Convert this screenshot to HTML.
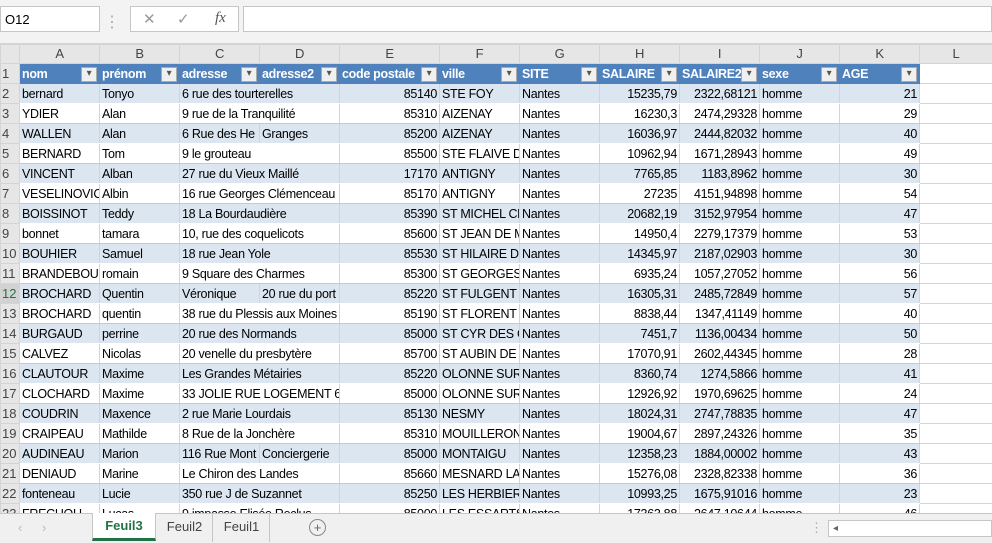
<!DOCTYPE html>
<html><head><meta charset="utf-8"><style>
*{margin:0;padding:0;box-sizing:border-box}
body{width:992px;height:543px;overflow:hidden;background:#fff;font-family:"Liberation Sans",sans-serif;position:relative}
#top{position:absolute;left:0;top:0;width:992px;height:44px;background:#f3f3f3;border-bottom:1px solid #d4d4d4}
.nb{position:absolute;left:0;top:6px;width:100px;height:26px;background:#fff;border:1px solid #c6c6c6;font-size:13px;padding:5px 4px}
.fb{position:absolute;left:130px;top:6px;width:109px;height:26px;background:#fff;border:1px solid #c6c6c6;color:#999;font-size:15px}
.fx{position:absolute;left:243px;top:6px;width:749px;height:26px;background:#fff;border:1px solid #c6c6c6}
table{position:absolute;left:0;top:44px;width:992px;border-collapse:collapse;table-layout:fixed;font-size:12.5px;letter-spacing:-0.3px}
td{height:20px;border:1px solid #d4d4d4;white-space:nowrap;overflow:hidden;padding:0 2px;line-height:18px;color:#000}
tr.h td{height:19px;background:#e6e6e6;text-align:center;color:#444;font-size:13px}
td.rn{background:#e6e6e6;text-align:left;color:#444;padding-left:1px;font-size:13px;letter-spacing:0}
tr.t td:not(.rn):not(.e){background:#4f81bd;color:#fff;font-weight:bold;border-color:#4f81bd;position:relative}
tr.t td:not(.rn):not(.e)::after{content:"▾";position:absolute;right:2px;top:3px;width:14px;height:13px;background:#f0f0f0;color:#555;font-size:10px;line-height:12px;text-align:center;font-weight:normal;border:1px solid #aaa}
tr.b td:not(.rn):not(.e){background:#dce6f1;border-color:#fff #d4d4d4}
tr.w td:not(.rn):not(.e){border-color:#b8cce4 #d4d4d4}
.r{text-align:right}
#tabs{position:absolute;left:0;top:513px;width:992px;height:30px;background:#f0f0f0;border-top:1px solid #c6c6c6;font-size:13px;color:#444}
.tab{position:absolute;top:0;height:28px;line-height:26px;text-align:center}
</style></head><body>
<div id="top"><div class="nb">O12</div><div style="position:absolute;left:104px;top:12px;color:#aaa">⋮</div><div class="fb"><span style="position:absolute;left:12px;top:3px">✕</span><span style="position:absolute;left:46px;top:3px">✓</span><span style="position:absolute;left:84px;top:3px;font-style:italic;font-family:'Liberation Serif';color:#555">fx</span></div><div class="fx"></div></div>
<table>
<colgroup><col style="width:19px"><col style="width:80px"><col style="width:80px"><col style="width:80px"><col style="width:80px"><col style="width:100px"><col style="width:80px"><col style="width:80px"><col style="width:80px"><col style="width:80px"><col style="width:80px"><col style="width:80px"><col style="width:73px"></colgroup>
<tr class="h"><td></td><td>A</td><td>B</td><td>C</td><td>D</td><td>E</td><td>F</td><td>G</td><td>H</td><td>I</td><td>J</td><td>K</td><td>L</td></tr>
<tr class="t"><td class="rn">1</td><td>nom</td><td>prénom</td><td>adresse</td><td>adresse2</td><td>code postale</td><td>ville</td><td>SITE</td><td>SALAIRE</td><td>SALAIRE2</td><td>sexe</td><td>AGE</td><td class="e"></td></tr>
<tr class="b"><td class="rn">2</td><td>bernard</td><td>Tonyo</td><td colspan="2">6 rue des tourterelles</td><td class="r">85140</td><td>STE FOY</td><td>Nantes</td><td class="r">15235,79</td><td class="r">2322,68121</td><td>homme</td><td class="r">21</td><td class="e"></td></tr>
<tr class="w"><td class="rn">3</td><td>YDIER</td><td>Alan</td><td colspan="2">9 rue de la Tranquilité</td><td class="r">85310</td><td>AIZENAY</td><td>Nantes</td><td class="r">16230,3</td><td class="r">2474,29328</td><td>homme</td><td class="r">29</td><td class="e"></td></tr>
<tr class="b"><td class="rn">4</td><td>WALLEN</td><td>Alan</td><td>6 Rue des He</td><td>Granges</td><td class="r">85200</td><td>AIZENAY</td><td>Nantes</td><td class="r">16036,97</td><td class="r">2444,82032</td><td>homme</td><td class="r">40</td><td class="e"></td></tr>
<tr class="w"><td class="rn">5</td><td>BERNARD</td><td>Tom</td><td colspan="2">9 le grouteau</td><td class="r">85500</td><td>STE FLAIVE DES</td><td>Nantes</td><td class="r">10962,94</td><td class="r">1671,28943</td><td>homme</td><td class="r">49</td><td class="e"></td></tr>
<tr class="b"><td class="rn">6</td><td>VINCENT</td><td>Alban</td><td colspan="2">27 rue du Vieux Maillé</td><td class="r">17170</td><td>ANTIGNY</td><td>Nantes</td><td class="r">7765,85</td><td class="r">1183,8962</td><td>homme</td><td class="r">30</td><td class="e"></td></tr>
<tr class="w"><td class="rn">7</td><td>VESELINOVIC</td><td>Albin</td><td colspan="2">16 rue Georges Clémenceau</td><td class="r">85170</td><td>ANTIGNY</td><td>Nantes</td><td class="r">27235</td><td class="r">4151,94898</td><td>homme</td><td class="r">54</td><td class="e"></td></tr>
<tr class="b"><td class="rn">8</td><td>BOISSINOT</td><td>Teddy</td><td colspan="2">18 La Bourdaudière</td><td class="r">85390</td><td>ST MICHEL CH</td><td>Nantes</td><td class="r">20682,19</td><td class="r">3152,97954</td><td>homme</td><td class="r">47</td><td class="e"></td></tr>
<tr class="w"><td class="rn">9</td><td>bonnet</td><td>tamara</td><td colspan="2">10, rue des coquelicots</td><td class="r">85600</td><td>ST JEAN DE M</td><td>Nantes</td><td class="r">14950,4</td><td class="r">2279,17379</td><td>homme</td><td class="r">53</td><td class="e"></td></tr>
<tr class="b"><td class="rn">10</td><td>BOUHIER</td><td>Samuel</td><td colspan="2">18 rue Jean Yole</td><td class="r">85530</td><td>ST HILAIRE D</td><td>Nantes</td><td class="r">14345,97</td><td class="r">2187,02903</td><td>homme</td><td class="r">30</td><td class="e"></td></tr>
<tr class="w"><td class="rn">11</td><td>BRANDEBOURG</td><td>romain</td><td colspan="2">9 Square des Charmes</td><td class="r">85300</td><td>ST GEORGES</td><td>Nantes</td><td class="r">6935,24</td><td class="r">1057,27052</td><td>homme</td><td class="r">56</td><td class="e"></td></tr>
<tr class="b"><td class="rn" style="color:#217346;background:#d2d2d2">12</td><td>BROCHARD</td><td>Quentin</td><td>Véronique</td><td>20 rue du port</td><td class="r">85220</td><td>ST FULGENT</td><td>Nantes</td><td class="r">16305,31</td><td class="r">2485,72849</td><td>homme</td><td class="r">57</td><td class="e"></td></tr>
<tr class="w"><td class="rn">13</td><td>BROCHARD</td><td>quentin</td><td colspan="2">38 rue du Plessis aux Moines</td><td class="r">85190</td><td>ST FLORENT DES</td><td>Nantes</td><td class="r">8838,44</td><td class="r">1347,41149</td><td>homme</td><td class="r">40</td><td class="e"></td></tr>
<tr class="b"><td class="rn">14</td><td>BURGAUD</td><td>perrine</td><td colspan="2">20 rue des Normands</td><td class="r">85000</td><td>ST CYR DES G</td><td>Nantes</td><td class="r">7451,7</td><td class="r">1136,00434</td><td>homme</td><td class="r">50</td><td class="e"></td></tr>
<tr class="w"><td class="rn">15</td><td>CALVEZ</td><td>Nicolas</td><td colspan="2">20 venelle du presbytère</td><td class="r">85700</td><td>ST AUBIN DE</td><td>Nantes</td><td class="r">17070,91</td><td class="r">2602,44345</td><td>homme</td><td class="r">28</td><td class="e"></td></tr>
<tr class="b"><td class="rn">16</td><td>CLAUTOUR</td><td>Maxime</td><td colspan="2">Les Grandes Métairies</td><td class="r">85220</td><td>OLONNE SUR</td><td>Nantes</td><td class="r">8360,74</td><td class="r">1274,5866</td><td>homme</td><td class="r">41</td><td class="e"></td></tr>
<tr class="w"><td class="rn">17</td><td>CLOCHARD</td><td>Maxime</td><td colspan="2">33 JOLIE RUE LOGEMENT 6</td><td class="r">85000</td><td>OLONNE SUR</td><td>Nantes</td><td class="r">12926,92</td><td class="r">1970,69625</td><td>homme</td><td class="r">24</td><td class="e"></td></tr>
<tr class="b"><td class="rn">18</td><td>COUDRIN</td><td>Maxence</td><td colspan="2">2 rue Marie Lourdais</td><td class="r">85130</td><td>NESMY</td><td>Nantes</td><td class="r">18024,31</td><td class="r">2747,78835</td><td>homme</td><td class="r">47</td><td class="e"></td></tr>
<tr class="w"><td class="rn">19</td><td>CRAIPEAU</td><td>Mathilde</td><td colspan="2">8 Rue de la Jonchère</td><td class="r">85310</td><td>MOUILLERON</td><td>Nantes</td><td class="r">19004,67</td><td class="r">2897,24326</td><td>homme</td><td class="r">35</td><td class="e"></td></tr>
<tr class="b"><td class="rn">20</td><td>AUDINEAU</td><td>Marion</td><td>116 Rue Mont</td><td>Conciergerie</td><td class="r">85000</td><td>MONTAIGU</td><td>Nantes</td><td class="r">12358,23</td><td class="r">1884,00002</td><td>homme</td><td class="r">43</td><td class="e"></td></tr>
<tr class="w"><td class="rn">21</td><td>DENIAUD</td><td>Marine</td><td colspan="2">Le Chiron des Landes</td><td class="r">85660</td><td>MESNARD LA</td><td>Nantes</td><td class="r">15276,08</td><td class="r">2328,82338</td><td>homme</td><td class="r">36</td><td class="e"></td></tr>
<tr class="b"><td class="rn">22</td><td>fonteneau</td><td>Lucie</td><td colspan="2">350 rue J de Suzannet</td><td class="r">85250</td><td>LES HERBIERS</td><td>Nantes</td><td class="r">10993,25</td><td class="r">1675,91016</td><td>homme</td><td class="r">23</td><td class="e"></td></tr>
<tr class="w"><td class="rn">23</td><td>FRECHOU</td><td>Lucas</td><td colspan="2">9 impasse Elisée Reclus</td><td class="r">85000</td><td>LES ESSARTS</td><td>Nantes</td><td class="r">17363,88</td><td class="r">2647,10644</td><td>homme</td><td class="r">46</td><td class="e"></td></tr>
</table>
<div id="tabs">
<span style="position:absolute;left:18px;top:6px;color:#bbb">‹</span><span style="position:absolute;left:42px;top:6px;color:#bbb">›</span>
<div class="tab" style="left:92px;width:64px;background:#fff;color:#217346;font-weight:bold;border-bottom:3px solid #217346;border-left:1px solid #c6c6c6;border-right:1px solid #c6c6c6;top:-1px">Feuil3</div>
<div class="tab" style="left:157px;width:56px;border-right:1px solid #c6c6c6">Feuil2</div>
<div class="tab" style="left:214px;width:56px;border-right:1px solid #c6c6c6">Feuil1</div>
<div style="position:absolute;left:309px;top:5px;width:17px;height:17px;border:1px solid #888;border-radius:50%;text-align:center;line-height:15px;color:#666">+</div>
<span style="position:absolute;left:810px;top:6px;color:#aaa">⋮</span>
<div style="position:absolute;left:828px;top:6px;width:164px;height:17px;background:#fff;border:1px solid #c6c6c6;font-size:10px;color:#666;padding-left:4px;line-height:15px">◂</div>
</div>
</body></html>
